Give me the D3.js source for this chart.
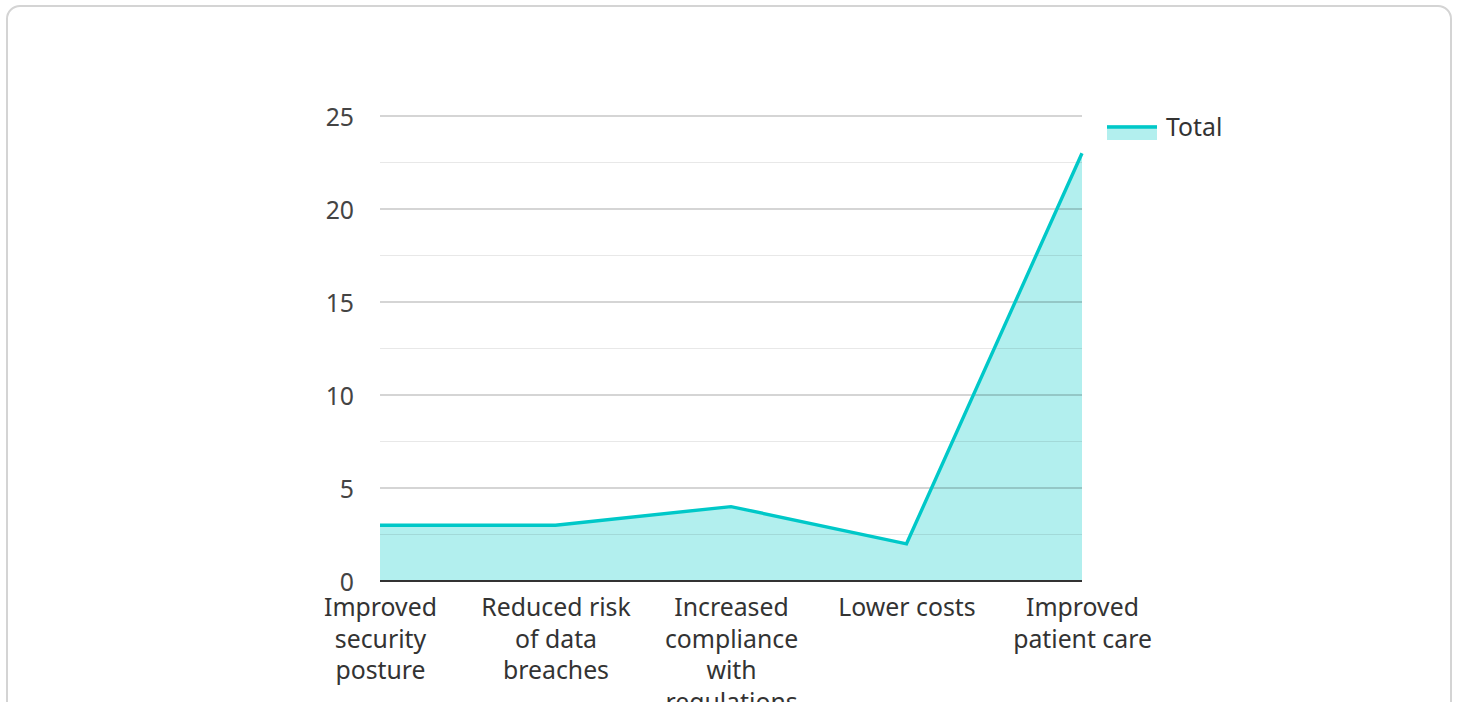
<!DOCTYPE html>
<html><head><meta charset="utf-8">
<script src="https://cdn.jsdelivr.net/npm/d3@7"></script>
<style>
html,body{margin:0;padding:0;background:#fff;overflow:hidden}
svg{display:block;font-family:"Noto Sans",sans-serif}
</style></head>
<body>
<svg id="chart" width="1458" height="702"></svg>
<script>
const categories = ["Improved security posture","Reduced risk of data breaches","Increased compliance with regulations","Lower costs","Improved patient care"];
const totals = [3,3,4,2,23];
const yTicks = [0,5,10,15,20,25];
const minorTicks = [2.5,7.5,12.5,17.5,22.5];
const seriesName = "Total";

const FS = 24.8;
const svg = d3.select("#chart");
svg.append("rect").attr("x",7).attr("y",6).attr("width",1444).attr("height",740)
  .attr("rx",13).attr("fill","#fff").attr("stroke","#d4d4d4").attr("stroke-width",2);

const pLeft=380, pRight=1082, pTop=116, pBottom=581;
const x = d3.scalePoint().domain(categories).range([pLeft,pRight]);
const y = d3.scaleLinear().domain([0,25]).range([pBottom,pTop]);

// area
const area = d3.area().x((d,i)=>x(categories[i])).y0(y(0)).y1(d=>y(d));
svg.append("path").datum(totals).attr("d",area).attr("fill","#b2efee");

// grid
svg.append("g").selectAll("line").data(minorTicks).join("line")
  .attr("x1",pLeft).attr("x2",pRight).attr("y1",d=>y(d)).attr("y2",d=>y(d))
  .attr("stroke","rgba(0,0,0,0.09)").attr("stroke-width",1);
svg.append("g").selectAll("line").data(yTicks.filter(d=>d>0)).join("line")
  .attr("x1",pLeft).attr("x2",pRight).attr("y1",d=>y(d)).attr("y2",d=>y(d))
  .attr("stroke","rgba(0,0,0,0.22)").attr("stroke-width",1.3);

// line
const line = d3.line().x((d,i)=>x(categories[i])).y(d=>y(d));
svg.append("path").datum(totals).attr("d",line).attr("fill","none")
  .attr("stroke","#00c8c8").attr("stroke-width",3.4).attr("stroke-linejoin","miter");

// baseline
svg.append("line").attr("x1",pLeft).attr("x2",pRight).attr("y1",y(0)).attr("y2",y(0))
  .attr("stroke","#333").attr("stroke-width",2);

// y axis labels
const yAxis = d3.axisLeft(y).tickValues(yTicks).tickSize(0).tickPadding(26);
const gy = svg.append("g").attr("transform",`translate(${pLeft},0)`).call(yAxis);
gy.select(".domain").remove();
gy.selectAll("text").attr("font-size",FS).attr("fill","#444").attr("dy","0.38em")
  .attr("font-family","Noto Sans, sans-serif");

// x axis labels with wrapping
const xAxis = d3.axisBottom(x).tickSize(0).tickPadding(0);
const gx = svg.append("g").attr("transform",`translate(0,${pBottom})`).call(xAxis);
gx.select(".domain").remove();
gx.selectAll("text").attr("font-size",FS).attr("fill","#333").attr("font-family","Noto Sans, sans-serif")
  .each(function(d){
    const t = d3.select(this);
    const words = d.split(" ");
    t.text(null).attr("y",0).attr("dy",null);
    let lines=[], cur=[];
    const probe = t.append("tspan");
    words.forEach(w=>{
      const test = cur.concat([w]).join(" ");
      probe.text(test);
      if(probe.node().getComputedTextLength()>158 && cur.length){ lines.push(cur.join(" ")); cur=[w]; }
      else cur.push(w);
    });
    lines.push(cur.join(" "));
    probe.remove();
    lines.forEach((l,i)=>{
      t.append("tspan").attr("x",0).attr("y",35+i*31.7).text(l);
    });
  });

// legend
const lg = svg.append("g").attr("transform","translate(1107,125)");
lg.append("rect").attr("x",0).attr("y",0).attr("width",50).attr("height",15).attr("fill","#b2efee");
lg.append("line").attr("x1",0).attr("x2",50).attr("y1",2).attr("y2",2).attr("stroke","#00c8c8").attr("stroke-width",3.5);
lg.append("text").attr("x",59).attr("y",11).attr("font-size",FS).attr("fill","#333")
  .text(seriesName);
</script>
</body></html>
